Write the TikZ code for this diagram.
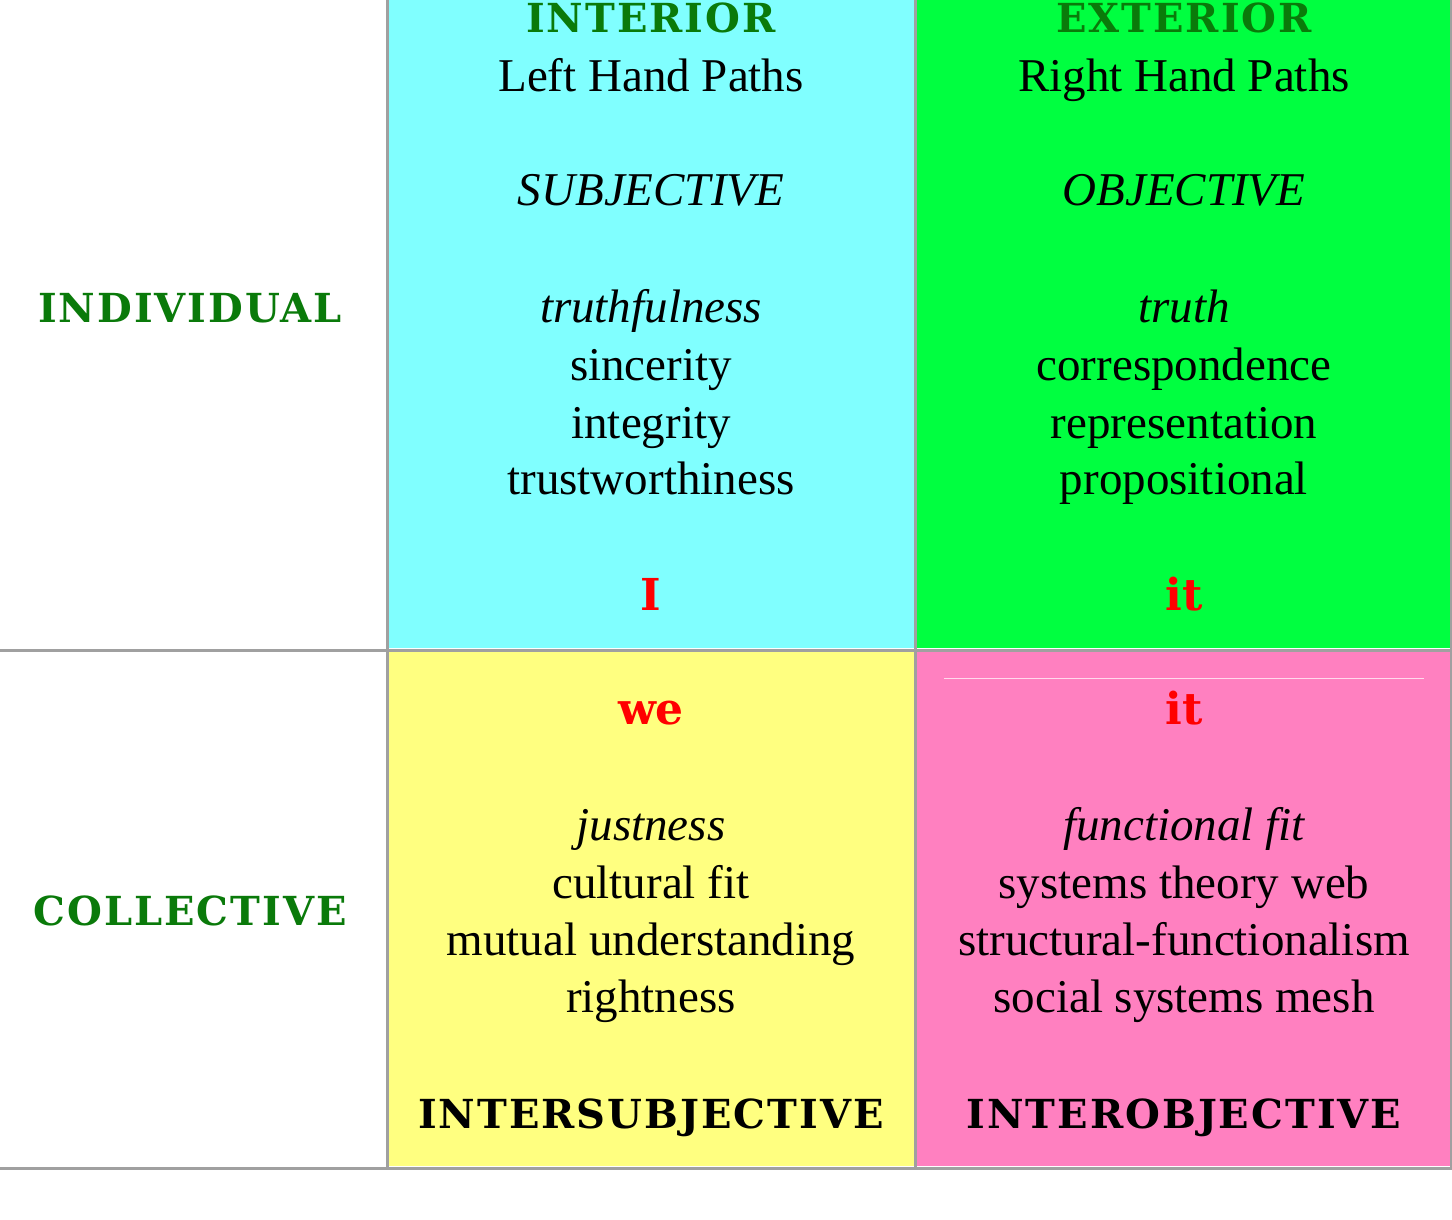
\documentclass[tikz,border=0pt]{standalone}
\usepackage{fontspec}
\setmainfont{Liberation Serif}
\newfontfamily\headfont[LetterSpace=5]{DejaVu Serif}
\newfontfamily\redfont{DejaVu Serif}
\definecolor{cyanq}{HTML}{80FFFF}
\definecolor{greenq}{HTML}{00FF40}
\definecolor{yellowq}{HTML}{FFFF80}
\definecolor{pinkq}{HTML}{FF80C0}
\definecolor{headg}{HTML}{0A7A0A}
\definecolor{gridg}{HTML}{A0A0A0}
\begin{document}
\begin{tikzpicture}[x=1pt,y=-1pt,
  txt/.style={anchor=base,inner sep=0pt,font=\fontsize{47}{57}\selectfont},
  itx/.style={txt,font=\fontsize{47}{57}\selectfont\itshape},
  hd/.style={anchor=base,inner sep=0pt,text=headg,font=\fontsize{40}{48}\selectfont\headfont\bfseries},
  bk/.style={anchor=base,inner sep=0pt,font=\fontsize{40}{48}\selectfont\headfont\bfseries},
  rd/.style={anchor=base,inner sep=0pt,text=red,font=\fontsize{44}{50}\selectfont\redfont\bfseries},
  grid/.style={draw=gridg,line width=3pt}]
\useasboundingbox (0,0) rectangle (1452,1220);
\fill[white] (0,0) rectangle (1452,1220);
\fill[cyanq] (388,0) rectangle (914,648);
\fill[greenq] (916,0) rectangle (1450,648);
\fill[yellowq] (388,652) rectangle (914,1166);
\fill[pinkq] (916,652) rectangle (1450,1166);
\draw[white!70!pinkq,line width=0.8pt] (944,678) -- (1424,678);
\coordinate (v1t) at (387,0); \coordinate (v1b) at (387,1167);
\coordinate (v2t) at (915,0); \coordinate (v2b) at (915,1167);
\coordinate (v3t) at (1451,0); \coordinate (v3b) at (1451,1167);
\coordinate (h1l) at (0,650); \coordinate (h1r) at (1452,650);
\coordinate (h2l) at (0,1168); \coordinate (h2r) at (1452,1168);
\draw[grid] (v1t) -- (v1b);
\draw[grid] (v2t) -- (v2b);
\draw[grid] (v3t) -- (v3b);
\draw[grid] (h1l) -- (h1r);
\draw[grid] (h2l) -- (h2r);
% column 2
\node[hd] (interior) at (651,33) {INTERIOR};
\node[txt] (lhp) at (651,92) {Left Hand Paths};
\node[itx] (subj) at (651,206) {SUBJECTIVE};
\node[itx] (truthf) at (651,322) {truthfulness};
\node[txt] (sinc) at (651,380) {sincerity};
\node[txt] (integ) at (651,438) {integrity};
\node[txt] (trustw) at (651,494) {trustworthiness};
\node[rd] (I) at (651,610) {I};
% column 3
\node[hd] (exterior) at (1184,33) {EXTERIOR};
\node[txt] (rhp) at (1184,92) {Right Hand Paths};
\node[itx] (obj) at (1184,206) {OBJECTIVE};
\node[itx] (truth) at (1184,322) {truth};
\node[txt] (corr) at (1184,380) {correspondence};
\node[txt] (repr) at (1184,438) {representation};
\node[txt] (prop) at (1184,494) {propositional};
\node[rd] (it1) at (1184,610) {it};
% left column
\node[hd] (indiv) at (190,322) {INDIVIDUAL};
\node[hd] (coll) at (190,925) {COLLECTIVE};
% row 2
\node[rd] (we) at (651,724) {we};
\node[itx] (just) at (651,840) {justness};
\node[txt] (cult) at (651,898) {cultural fit};
\node[txt] (mutual) at (651,955) {mutual understanding};
\node[txt] (right) at (651,1012) {rightness};
\node[bk] (intersub) at (651,1128) {INTERSUBJECTIVE};
\node[rd] (it2) at (1184,724) {it};
\node[itx] (func) at (1184,840) {functional fit};
\node[txt] (sys) at (1184,898) {systems theory web};
\node[txt] (struct) at (1184,955) {structural-functionalism};
\node[txt] (social) at (1184,1012) {social systems mesh};
\node[bk] (interobj) at (1184,1128) {INTEROBJECTIVE};
\end{tikzpicture}
\end{document}
